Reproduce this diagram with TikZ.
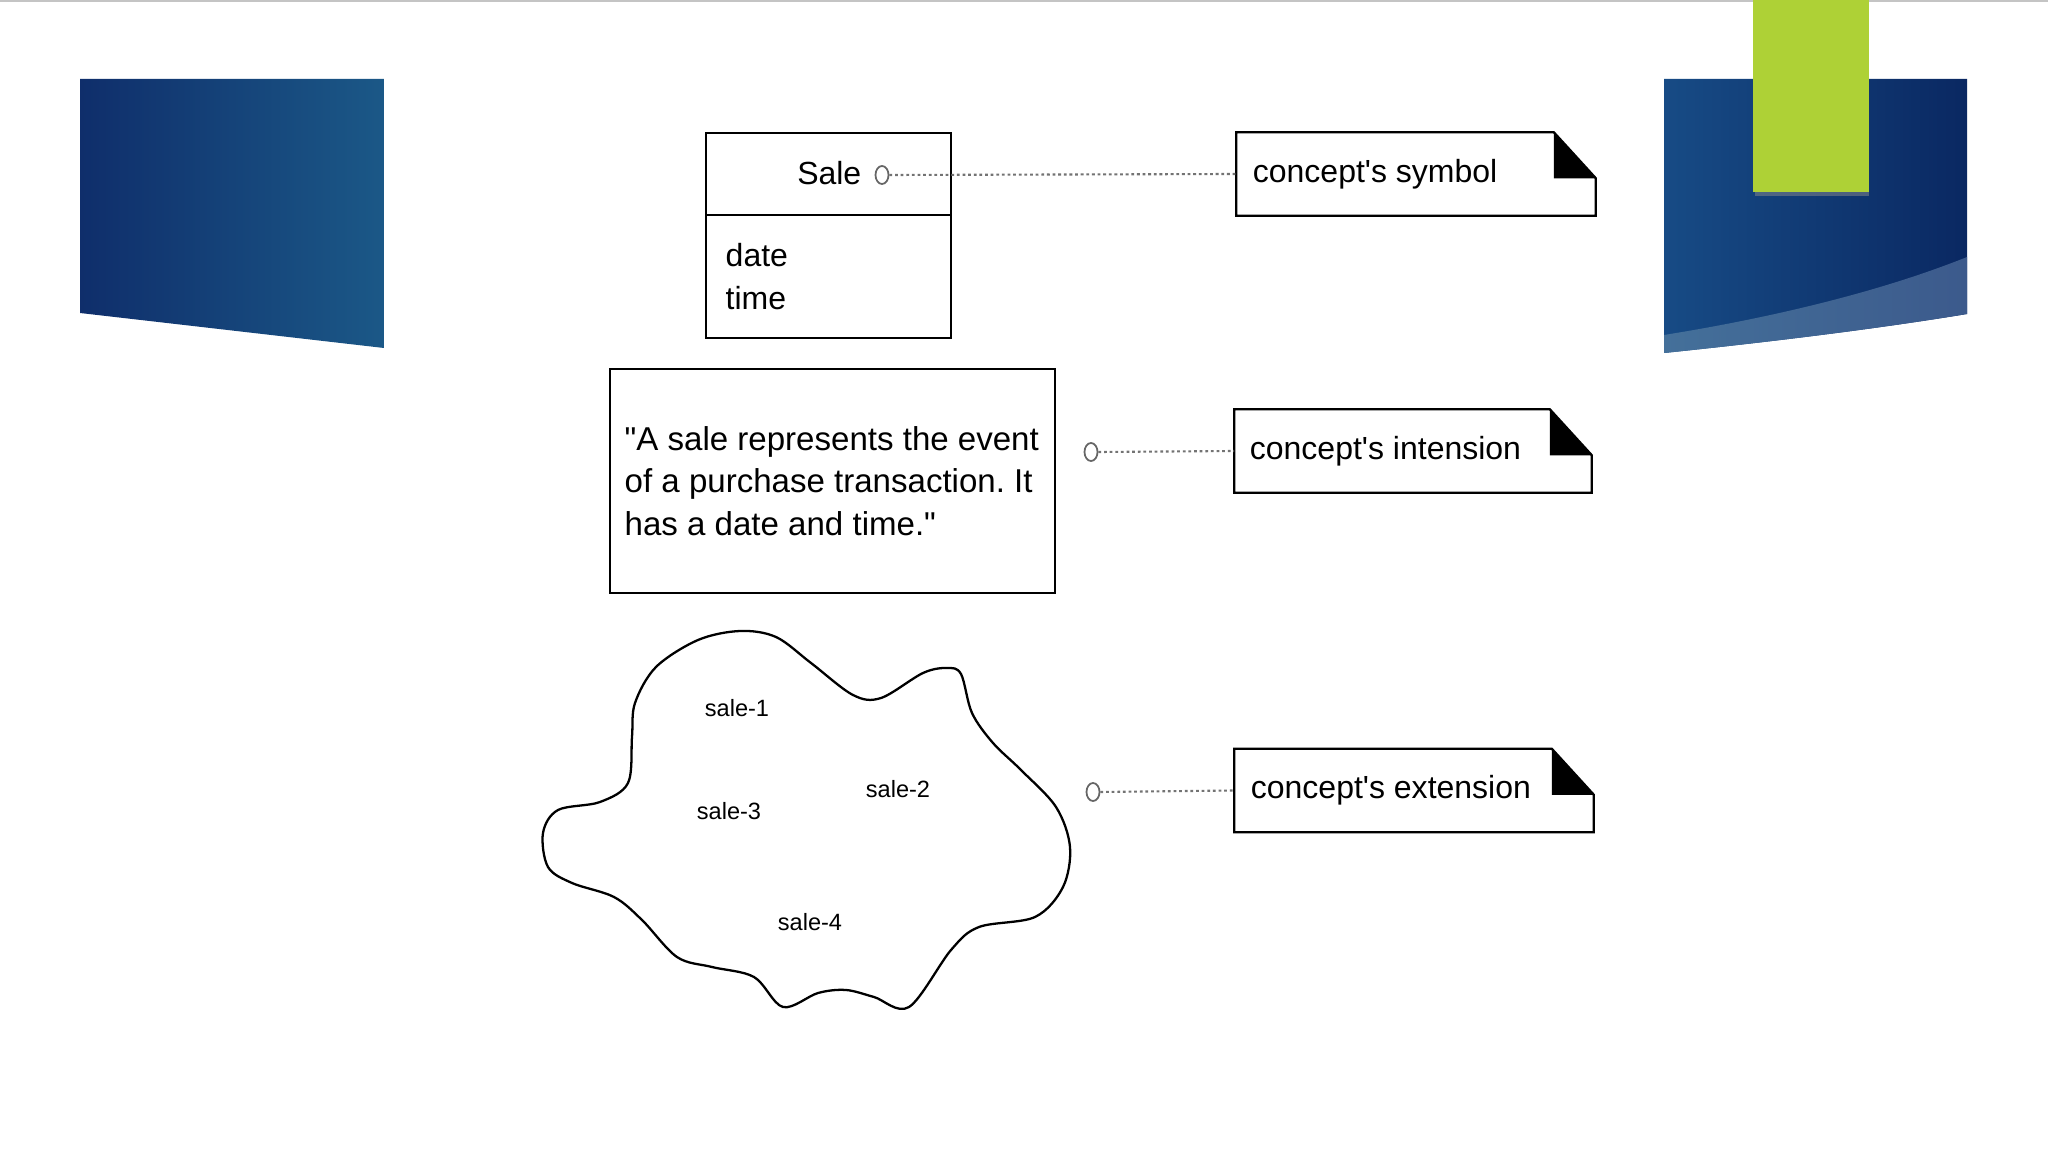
\documentclass[tikz,border=0pt]{standalone}
\usepackage{fontspec}
\setmainfont{Liberation Sans}
\newfontfamily\rawsans{Liberation Sans}
\usetikzlibrary{shapes.geometric,calc}
\frenchspacing
\definecolor{navyA}{HTML}{0F2E6B}
\definecolor{navyB}{HTML}{1B5887}
\definecolor{navyC}{HTML}{174B85}
\definecolor{navyD}{HTML}{0A2862}
\definecolor{bandA}{HTML}{44709A}
\definecolor{bandB}{HTML}{3C5A8C}
\definecolor{lime}{HTML}{AED136}
\definecolor{topline}{HTML}{C4C4C4}
\tikzset{
  box/.style={draw=black, line width=0.65pt, fill=white, inner sep=0pt},
  lbl/.style={font=\rawsans\fontsize{9.1}{12.2}\selectfont, inner sep=0pt},
  quote/.style={font=\rawsans\fontsize{9.4}{12.1}\selectfont, inner sep=0pt, align=left},
  small/.style={font=\rawsans\fontsize{6.7}{8}\selectfont, inner sep=0pt},
  ring/.style={ellipse, draw=black!60, line width=0.5pt, minimum width=0.13cm, minimum height=0.18cm, inner sep=0pt},
  link/.style={draw=black!55, line width=0.6pt, dash pattern=on 0.8pt off 0.8pt},
  notebox/.style={minimum height=0.82cm, inner sep=0pt},
  noteline/.style={draw=black, line width=0.65pt, fill=white},
  cloud/.style={draw=black, line width=0.65pt}
}
\begin{document}
\frenchspacing
\begin{tikzpicture}[x=0.01cm,y=-0.01cm]
\useasboundingbox (0,0) rectangle (2048,1152);
\fill[white] (0,0) rectangle (2048,1152);
\fill[topline] (0,0) rectangle (2048,2);

% decorative shapes
\shade[left color=navyA, right color=navyB] (80,79) -- (384,79) -- (384,348) -- (80,313) -- cycle;
\shade[left color=navyC, right color=navyD] (1664,79) -- (1967,79) -- (1967,314) .. controls (1870,330) and (1760,343) .. (1664,353) -- cycle;
\shade[left color=bandA, right color=bandB] (1664,335) .. controls (1770,318) and (1880,292) .. (1967,257) -- (1967,314) .. controls (1870,330) and (1760,343) .. (1664,353) -- cycle;
\fill[black!45, opacity=0.5] (1755,190) rectangle (1869,196);
\fill[lime] (1753,0) rectangle (1869,192);

% Sale class box
\node[box, minimum width=2.45cm, minimum height=0.82cm] (salehead) at (828.5,174) {};
\node[box, minimum width=2.45cm, minimum height=1.23cm] (salebody) at (828.5,276.5) {};
\node[lbl, anchor=base east] (saletxt) at (862,185) {Sale};
\node[lbl, anchor=base west] (datetxt) at (725,267) {date};
\node[lbl, anchor=base west] (timetxt) at (725,310) {time};
\node[ring] (c1) at (882,175) {};

% intension box
\node[box, minimum width=4.45cm, minimum height=2.24cm] (quotebox) at (832.5,481) {};
\node[quote, anchor=west] (quotetxt) at (624,481) {"A sale represents the event\\of a purchase transaction. It\\has a date and time."};
\node[ring] (c2) at (1091,452) {};

% extension cloud
\draw[cloud] plot[smooth cycle, tension=0.55] coordinates {
 (698,640) (740,631) (776,637) (811,663) (853,695) (881,698) (923,673) (947,668) (961,674)
 (972,713) (993,743) (1021,770) (1056,807) (1070,847) (1063,887) (1035,917) (979,927)
 (951,950) (909,1007) (874,997) (846,990) (818,993) (783,1007) (754,977) (712,967)
 (677,957) (642,920) (614,897) (572,883) (548,867) (543,833) (558,810) (600,802)
 (628,783) (632,737) (635,703) (656,667)};
\node[small] (s1) at (737,708) {sale-1};
\node[small] (s2) at (898,789) {sale-2};
\node[small] (s3) at (729,811) {sale-3};
\node[small] (s4) at (810,922) {sale-4};
\node[ring] (c3) at (1093,792) {};

% notes
\node[notebox, minimum width=3.58cm] (symbol) at (1416,174) {};
\node[notebox, minimum width=3.56cm] (intension) at (1413,451) {};
\node[notebox, minimum width=3.58cm] (extension) at (1414,790.5) {};
\foreach \n in {symbol,intension,extension}{
  \draw[noteline] (\n.north west) -- ($(\n.north east)+(-42,0)$) -- ($(\n.north east)+(0,46)$) -- (\n.south east) -- (\n.south west) -- cycle;
  \fill[black] ($(\n.north east)+(-42,0)$) -- ($(\n.north east)+(-42,46)$) -- ($(\n.north east)+(0,46)$) -- cycle;
}
\node[lbl, anchor=west] (symboltxt) at ($(symbol.west)+(16,0)$) {concept's symbol};
\node[lbl, anchor=west] (intensiontxt) at ($(intension.west)+(15,0)$) {concept's intension};
\node[lbl, anchor=west] (extensiontxt) at ($(extension.west)+(16,0)$) {concept's extension};

% connectors
\draw[link] (c1.east) -- (symbol.west);
\draw[link] (c2.east) -- (intension.west);
\draw[link] (c3.east) -- (extension.west);
\end{tikzpicture}
\end{document}
